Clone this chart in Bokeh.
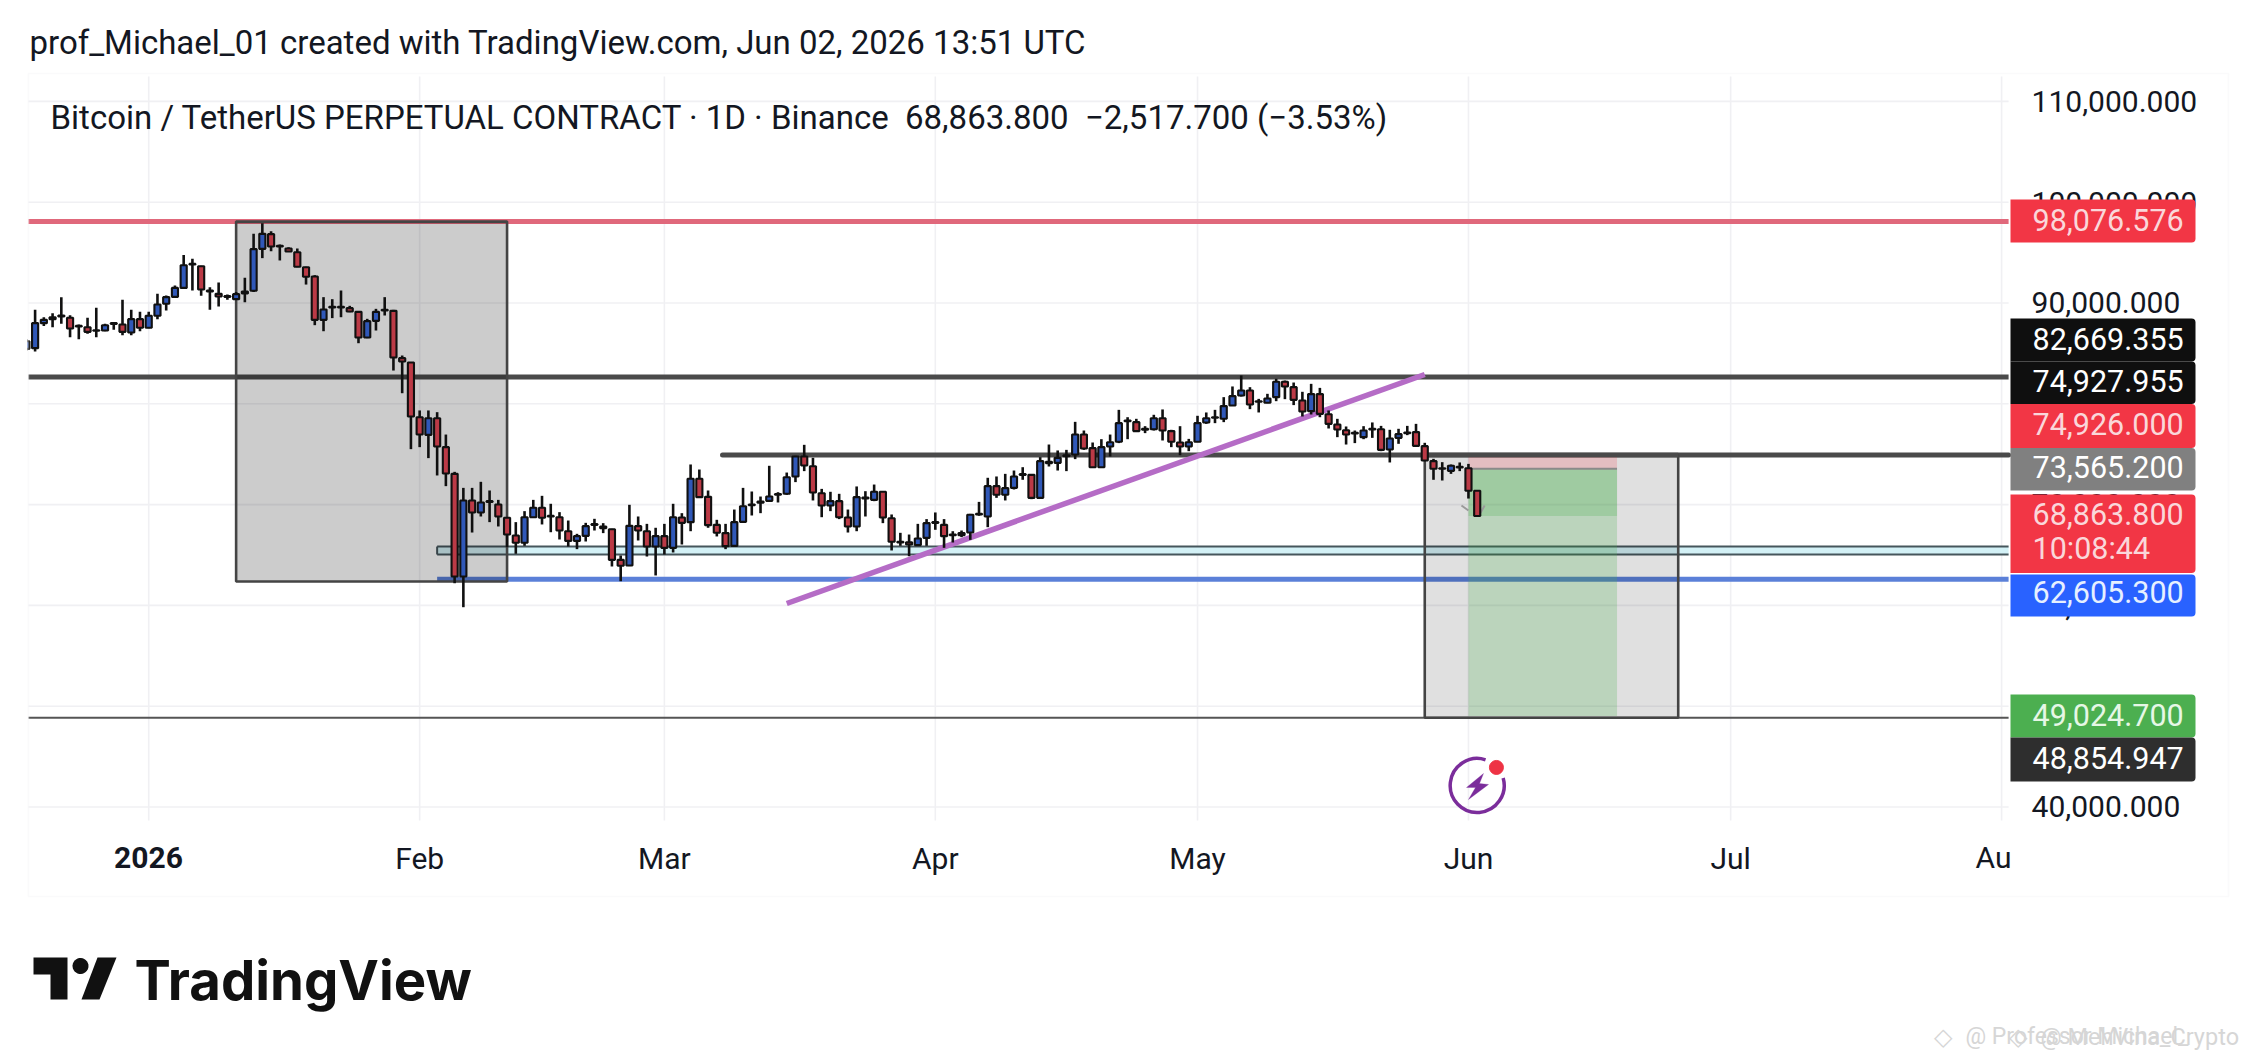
import numpy as np
import pandas as pd
from bokeh.embed import file_html
from bokeh.resources import INLINE
from bokeh.plotting import figure
from bokeh.models import (BoxAnnotation, ColumnDataSource, FixedTicker, Label, LinearAxis,
                          NumeralTickFormatter, PolyAnnotation)

FONT = "Roboto"
INK = "#131722"
FIRST_DAY = "2025-12-18"

opens = [85450,85520,88000,88400,88660,88530,87730,87600,87240,87270,87930,87870,87070,88400,87540,88730,89920,90610,91500,93820,93650,91240,90910,90610,90380,90940,91210,95370,96830,95600,95410,95040,93550,92630,88330,89550,89620,89490,89120,86580,88230,89260,89220,84530,84100,78670,76920,78570,75700,73050,62870,70410,69220,70270,70010,68690,66930,66210,68750,69680,68820,
         68750,67360,66400,66900,67990,67830,67560,64520,63960,67860,67360,65840,66870,65710,68720,68260,72560,70770,67990,67170,65910,68290,69940,70180,70370,70970,71070,72790,74770,73810,71130,69910,70340,68720,67830,70600,70470,71270,68650,66240,66270,65980,66700,68190,67990,66970,66970,67230,69020,68820,71830,70970,71660,72950,72950,70670,74110,74140,74800,74970,76950,75600,73710,75760,76230,78280,78180,77420,77480,78570,77290,76160,75760,76230,78150,78610,78510,79830,80820,81320,80200,80100,80660,82180,81650,80330,79270,80960,78970,77950,77380,77050,76690,77450,77480,75470,76620,77090,77190,75800,74310,73550,73350,73680,73610,71380]
highs = [86400,89320,88590,88990,90580,88790,87870,88530,89520,87930,88010,90310,89320,89120,89120,90910,90740,91740,94750,94380,93700,91570,92030,90840,91080,92500,96860,97920,97130,95800,95540,95410,93600,92760,90580,90380,91240,89720,89190,88430,89420,90580,89320,84790,84130,79340,79340,79170,76950,73250,71660,71660,72260,71400,70470,68720,68260,69350,70470,70870,70080,
         69250,68420,67100,68190,68590,68160,67600,64950,69980,68820,68090,67700,68090,70080,69150,73980,73480,71400,68490,68090,69510,71660,71300,70800,73850,71230,73180,74840,75930,74640,71560,71270,71070,69510,71800,71330,71990,71330,69020,67200,67030,68090,68560,69220,68560,67360,67430,69080,70270,72660,72790,73050,73380,73710,73000,74710,75960,75370,75430,78210,77350,76160,76490,76950,79400,78670,78510,77780,78910,79440,77420,77780,76520,78810,79140,79400,80660,81720,82810,81650,80490,80990,82480,82310,82110,81190,81980,81580,79340,78510,77750,77350,77780,78150,77810,77420,77520,77810,78010,76130,74540,74210,73980,74180,74040,71420]
lows = [85300,85190,87730,87600,87930,86610,86410,86940,86610,87200,87340,86810,86810,87200,87500,88400,89260,90580,91450,91240,90710,89320,89650,90310,90310,90080,91080,94450,95140,94220,95070,93550,91830,87800,87200,88500,88590,89090,86010,86510,87270,88760,83300,81050,75500,75700,74610,72890,71830,62200,59820,67230,68820,68260,67830,65780,65120,65910,68690,68030,67260,
        66540,65840,65580,66340,67430,67170,63860,62400,63900,66440,64850,62970,65050,65250,66040,67360,70670,67700,66840,65580,65880,68260,68920,69150,70340,70210,70970,72230,73320,70410,68750,69350,68560,67230,67360,68820,70340,68160,65450,65910,64880,65910,65910,67500,65710,66240,66770,66500,68890,67760,70670,70410,71500,72460,70540,70600,73780,73380,73320,74510,75430,73680,73680,74770,76100,76490,77220,77090,77350,76360,75700,74900,75300,76200,78010,78080,78180,79800,80720,79470,79140,80060,80260,80460,79870,78740,78940,78670,77550,76690,75960,76100,76490,76620,75300,74180,76030,76890,75760,74310,72460,72390,73050,73320,70600,68800]
closes = [86210,88000,88330,88590,88760,87470,87670,87140,87300,87800,88000,87140,88400,87540,88730,89850,90580,91500,93750,93880,91340,91140,90650,90680,90880,91140,95340,96860,95600,95670,95110,93590,92600,88330,89350,89620,89550,89160,86580,88200,89120,89320,84590,84200,78740,76950,78570,75760,73080,62870,70410,69220,70210,70340,68820,67030,66210,68750,69680,68690,68880,
          67430,66400,66870,67860,68060,67660,64520,63930,67890,67430,65840,66870,65710,68750,68190,72560,70740,67960,67200,65880,68260,69840,70010,70310,70800,71040,72720,74770,73880,71200,69910,70340,68750,67830,70740,70700,71270,68720,66310,66310,66040,66640,68160,68260,66870,67030,67170,68990,69080,71830,70970,71630,72790,73020,70670,74310,74240,74640,74900,76950,75570,73710,75700,76190,78080,78340,77290,77520,78570,77350,76230,75760,76190,78080,78570,78670,79770,80760,81320,79930,80260,80530,82180,81720,80390,79240,80960,79000,78010,77450,76950,77120,77350,77520,75430,76560,76990,77150,75830,74380,73550,73610,73850,73750,71380,68864]

price_ticks = [40000,50000,60000,70000,80000,90000,100000,110000]
month_days = ["2026-01-01","2026-02-01","2026-03-01","2026-04-01","2026-05-01","2026-06-01","2026-07-01","2026-08-01"]
month_labels = ["","Feb","Mar","Apr","May","Jun","Jul",""]

resistance = 98076.576
upper_level = 82669.355
mid_level = 74927.955
support = 62605.3
floor_level = 48854.947
band_top, band_bottom = 65840, 65050
box_top, box_bottom = 98076, 62376
entry, stop, target, last = 73565.2, 74926.0, 49024.7, 68863.8

def day(s):
    return (pd.Timestamp(s) - pd.Timestamp(FIRST_DAY)).days

xs = np.arange(len(opens))
src = ColumnDataSource(dict(x=xs, o=opens, h=highs, l=lows, c=closes,
    top=np.maximum(opens, closes), bottom=np.minimum(opens, closes),
    color=["#3058b8" if c >= o else "#bb3a46" for o, c in zip(opens, closes)]))

# pane extents in chart units
pane_l, pane_r = 0.245, 226.8
pane_b, pane_t = 38661, 112470

p = figure(width=2248, height=1054, output_backend="svg", toolbar_location=None,
           x_range=(-2.959, 254.25), y_range=(15446, 120010),
           x_axis_location=None, y_axis_location=None,
           min_border_left=0, min_border_right=0, min_border_top=0, min_border_bottom=0)
p.outline_line_color = None
p.background_fill_color = "white"
p.xgrid.visible = False
p.ygrid.visible = False
tk = [day(d) for d in month_days]

xax = LinearAxis(fixed_location=pane_b, ticker=FixedTicker(ticks=tk),
                 major_label_overrides={t: l for t, l in zip(tk, month_labels)})
yax = LinearAxis(fixed_location=pane_r, ticker=FixedTicker(ticks=price_ticks),
                 formatter=NumeralTickFormatter(format="0,0.000"))
for ax in (xax, yax):
    ax.major_label_text_font = FONT
    ax.major_label_text_font_size = "30px"
    ax.major_label_text_color = INK
    ax.axis_line_color = None
    ax.major_tick_line_color = None
    ax.minor_tick_line_color = None
xax.major_label_standoff = 15
yax.major_label_standoff = 17
p.add_layout(xax, "below")
p.add_layout(yax, "right")

# grid
p.segment(x0=tk, y0=[pane_b] * len(tk), x1=tk, y1=[pane_t] * len(tk), line_color="#f0f0f3", line_width=1.6)
p.segment(x0=[pane_l] * len(price_ticks), y0=price_ticks, x1=[pane_r] * len(price_ticks), y1=price_ticks,
          line_color="#f0f0f3", line_width=1.6)

# horizontal levels
p.segment([pane_l], [resistance], [pane_r], [resistance], line_color="#e0687b", line_width=5)
p.segment([pane_l], [upper_level], [pane_r], [upper_level], line_color="#4a4a4a", line_width=5)
p.segment([79.65], [mid_level], [pane_r], [mid_level], line_color="#4a4a4a", line_width=5, line_cap="round")
p.segment([pane_l], [floor_level], [pane_r], [floor_level], line_color="#555555", line_width=2)
# band and support
band_x = day("2026-02-03")
p.quad(left=[band_x], right=[pane_r], top=[band_top], bottom=[band_bottom], fill_color="#d3f1f6", line_color=None)
p.segment([band_x, band_x], [band_top, band_bottom], [pane_r, pane_r], [band_top, band_bottom],
          line_color="#46565c", line_width=2)
p.segment([band_x], [band_bottom], [band_x], [band_top], line_color="#46565c", line_width=2)
p.segment([band_x], [support], [pane_r], [support], line_color="#5b80d8", line_width=5)
# boxes
p.quad(left=[day("2026-01-11")], right=[day("2026-02-11")], top=[box_top], bottom=[box_bottom],
       fill_color="#000000", fill_alpha=0.2, line_color="#444444", line_width=2.6)
p.quad(left=[day("2026-05-27")], right=[day("2026-06-25")], top=[stop], bottom=[floor_level],
       fill_color="#000000", fill_alpha=0.12, line_color="#444444", line_width=2.6)
p.quad(left=[day("2026-06-01")], right=[day("2026-06-18")], top=[stop], bottom=[entry],
       fill_color="#f23645", fill_alpha=0.2, line_color=None)
p.quad(left=[day("2026-06-01")], right=[day("2026-06-18")], top=[entry], bottom=[target],
       fill_color="#4caf50", fill_alpha=0.25, line_color=None)
p.quad(left=[day("2026-06-01")], right=[day("2026-06-18")], top=[entry], bottom=[last],
       fill_color="#4caf50", fill_alpha=0.25, line_color=None)
p.segment([day("2026-06-01")], [entry], [day("2026-06-18")], [entry], line_color="#8a8a8a", line_width=2)
p.segment([day("2026-05-27")], [stop], [day("2026-06-25")], [stop], line_color="#4a4a4a", line_width=4.5)
# trend line
p.segment([day("2026-03-15")], [60190], [day("2026-05-27")], [82908], line_color="#b56cc6", line_width=5.5)
# arrow marks next to the last candle
p.segment([164.2, 166.85], [69913, 69913], [165.0, 166.4], [69417, 69220], line_color="#9a9a9a", line_width=2)
# candles
p.segment("x", "h", "x", "l", source=src, line_color="#101010", line_width=2.6)
p.vbar(x="x", top="top", bottom="bottom", width=0.7, source=src, fill_color="color",
       line_color="#101010", line_width=2.1)
# lightning icon
p.arc([166], [42135], radius=27, radius_units="screen", start_angle=np.radians(72), end_angle=np.radians(16),
      line_color="#7b2d9b", line_width=3.5, direction="anticlock")
p.scatter([168.2], [43922], size=14, marker="circle", fill_color="#ee3344", line_color="#ee3344")
p.add_layout(PolyAnnotation(xs=[1483, 1466, 1475, 1468, 1488, 1479], ys=[773, 787, 787, 799, 784, 783],
                            xs_units="canvas", ys_units="canvas",
                            fill_color="#7b2d9b", fill_alpha=1, line_color="#7b2d9b", line_width=1))

def lbl(x, y, text, size, color=INK, style="normal", align="left", font=FONT):
    p.add_layout(Label(x=x, y=y, x_units="canvas", y_units="canvas", text=text,
                       text_font=font, text_font_size=f"{size}px", text_color=color,
                       text_font_style=style, text_align=align, text_baseline="middle"))

def box(l, r, t, b, **kw):
    p.add_layout(BoxAnnotation(left=l, right=r, top=t, bottom=b,
                               left_units="canvas", right_units="canvas", top_units="canvas", bottom_units="canvas", **kw))

def badge(y0, y1, color, lines):
    box(2010, 2195, y0, y1, fill_color=color, fill_alpha=1, line_color=None, border_radius=(0, 4, 4, 0))
    for text, yy, tc in lines:
        lbl(2032, yy, text, 30.5, tc)

# white mask over the pane's left edge, thin page frame
box(0, 27, 60, 830, fill_color="white", fill_alpha=1, line_color=None)
box(28, 2228, 73, 896, fill_alpha=0, line_color="#f0f0f3", line_width=1.6)

badge(199, 242, "#f23645", [("98,076.576", 219, "#fad7da")])
badge(318, 361, "#0f0f0f", [("82,669.355", 338, "#ffffff")])
badge(361, 403.5, "#0f0f0f", [("74,927.955", 380, "#ffffff")])
badge(403.5, 447.5, "#f23645", [("74,926.000", 423, "#fad7da")])
badge(447.5, 490, "#808080", [("73,565.200", 466, "#ffffff")])
badge(494, 572.5, "#f23645", [("68,863.800", 513, "#fad7da"), ("10:08:44", 548, "#fad7da")])
badge(574, 616, "#2962ff", [("62,605.300", 591, "#e6f0ff")])
badge(694, 737, "#4caf50", [("49,024.700", 714, "#e6f7e6")])
badge(737, 781, "#2e2e2e", [("48,854.947", 757, "#ffffff")])

lbl(29, 42, "prof_Michael_01 created with TradingView.com, Jun 02, 2026 13:51 UTC", 33)
lbl(50, 117, "Bitcoin / TetherUS PERPETUAL CONTRACT · 1D · Binance\u00a0\u00a068,863.800\u00a0\u00a0−2,517.700 (−3.53%)", 33)
lbl(148, 857, "2026", 30, style="bold", align="center")
lbl(1975, 857, "Au", 30)

# logo
ink = "#111111"
p.add_layout(PolyAnnotation(xs=[33, 67, 67, 50, 50, 33], ys=[957, 957, 999, 999, 974, 974],
                            xs_units="canvas", ys_units="canvas", fill_color=ink, fill_alpha=1, line_color=ink, line_width=0))
p.add_layout(PolyAnnotation(xs=[97, 116, 99, 81], ys=[957, 957, 999, 999],
                            xs_units="canvas", ys_units="canvas", fill_color=ink, fill_alpha=1, line_color=ink, line_width=0))
th = np.linspace(0, 2 * np.pi, 30)
p.add_layout(PolyAnnotation(xs=list(80 + 8 * np.cos(th)), ys=list(965.5 + 8 * np.sin(th)),
                            xs_units="canvas", ys_units="canvas", fill_color=ink, fill_alpha=1, line_color=ink, line_width=0))
lbl(134, 979, "TradingView", 54.5, ink, "bold", font="Inter")

# watermark
wm = "#d6d6d6"
lbl(1933, 1036, "◇", 24, wm)
lbl(1965, 1036, "@ Professor Michael_", 23, wm)
lbl(2008, 1036, "◇", 24, wm)
lbl(2040, 1036, "@ MehVina_Crypto", 23.5, wm)

open("out.html", "w").write(file_html(p, INLINE))
